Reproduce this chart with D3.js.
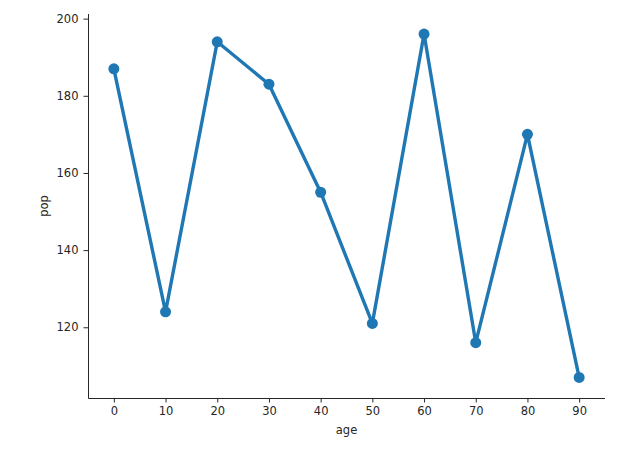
<!DOCTYPE html>
<html>
<head>
<meta charset="utf-8">
<script src="https://cdn.jsdelivr.net/npm/d3@7"></script>
<style>
  body { margin: 0; background: #fff; }
  text { font-family: "DejaVu Sans", sans-serif; fill: #262626; }
  .axis path, .axis line { stroke: #262626; }
</style>
</head>
<body>
<div id="chart"></div>
<script>
// Data
const ages = [0, 10, 20, 30, 40, 50, 60, 70, 80, 90];
const pops = [187, 124, 194, 183, 155, 121, 196, 116, 170, 107];
const yTicks = [120, 140, 160, 180, 200];

// Chart dimensions
const W = 624, H = 450;
const margin = { top: 14, right: 19, bot: 52, left: 88 };
const width = W - margin.left - margin.right;
const height = H - margin.top - margin.bot;
const fontSize = '11.5px';

const data = ages.map((a, i) => ({ age: a, pop: pops[i] }));

// Scales
const xScale = d3.scalePoint()
  .domain(ages)
  .range([0, width])
  .padding(0.5);

const yScale = d3.scaleLinear()
  .domain([101.67, 201.2])
  .range([height, 0]);

const svg = d3.select('#chart').append('svg')
  .attr('width', W)
  .attr('height', H);

const g = svg.append('g')
  .attr('transform', `translate(${margin.left}, ${margin.top})`);

// Axes
const xAxis = d3.axisBottom(xScale).tickSize(4.5).tickPadding(4.5);
const yAxis = d3.axisLeft(yScale).tickValues(yTicks).tickSize(4.5).tickPadding(5);

g.append('g')
  .attr('class', 'axis')
  .attr('transform', `translate(0, ${height})`)
  .call(xAxis)
  .call(a => a.select('.domain').attr('d', `M0.5,0.5H${width}`))
  .selectAll('text').style('font-size', fontSize);

g.append('g')
  .attr('class', 'axis')
  .call(yAxis)
  .call(a => a.select('.domain').attr('d', `M0.5,0V${height + 0.5}`))
  .selectAll('text').style('font-size', fontSize);

// Axis labels
svg.append('text')
  .attr('x', margin.left + width / 2)
  .attr('y', 434)
  .attr('text-anchor', 'middle')
  .style('font-size', fontSize)
  .text('age');

svg.append('text')
  .attr('transform', `translate(48, ${margin.top + height / 2}) rotate(-90)`)
  .attr('text-anchor', 'middle')
  .style('font-size', fontSize)
  .text('pop');

// Line
const line = d3.line()
  .x(d => xScale(d.age))
  .y(d => yScale(d.pop));

g.append('path')
  .attr('d', line(data))
  .attr('fill', 'none')
  .attr('stroke', '#1f77b4')
  .attr('stroke-width', 3.4)
  .attr('stroke-linejoin', 'round');

// Points
g.selectAll('circle')
  .data(data)
  .enter().append('circle')
  .attr('cx', d => xScale(d.age))
  .attr('cy', d => yScale(d.pop))
  .attr('r', 5.5)
  .attr('fill', '#1f77b4');
</script>
</body>
</html>
